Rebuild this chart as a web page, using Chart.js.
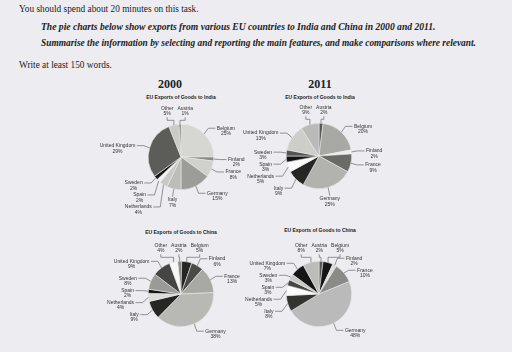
<!DOCTYPE html>
<html><head><meta charset="utf-8">
<script src="https://cdn.jsdelivr.net/npm/chart.js@4"></script>
<style>
html,body{margin:0;padding:0;}
body{width:512px;height:352px;background:#ECECF1;position:relative;overflow:hidden;font-family:"Liberation Serif",serif;color:#222;}
.t{position:absolute;white-space:nowrap;}
.l1{left:19px;top:4px;font-size:9.3px;}
.l2{left:41px;top:21px;font-size:9.6px;font-weight:bold;font-style:italic;}
.l3{left:41px;top:38px;font-size:9.4px;font-weight:bold;font-style:italic;}
.l4{left:19px;top:60px;font-size:9.3px;}
.yr{font-size:12px;font-weight:bold;transform:translateX(-50%);top:77px;}
.sub{font-family:"Liberation Sans",Arial,sans-serif;font-size:5px;font-weight:bold;transform:translateX(-50%);}
canvas{position:absolute;}
</style></head>
<body>
<div class="t l1">You should spend about 20 minutes on this task.</div>
<div class="t l2">The pie charts below show exports from various EU countries to India and China in 2000 and 2011.</div>
<div class="t l3">Summarise the information by selecting and reporting the main features, and make comparisons where relevant.</div>
<div class="t l4">Write at least 150 words.</div>
<div class="t yr" style="left:170px">2000</div>
<div class="t yr" style="left:320px">2011</div>
<div class="t sub" style="left:181px;top:94px">EU Exports of Goods to India</div>
<div class="t sub" style="left:320px;top:94px">EU Exports of Goods to India</div>
<div class="t sub" style="left:181px;top:229px">EU Exports of Goods to China</div>
<div class="t sub" style="left:320px;top:227px">EU Exports of Goods to China</div>
<canvas id="c1" width="230" height="140"></canvas>
<canvas id="c2" width="230" height="140"></canvas>
<canvas id="c3" width="230" height="140"></canvas>
<canvas id="c4" width="230" height="140"></canvas>
<script>
const countries = ["Austria","Belgium","Finland","France","Germany","Italy","Netherlands","Spain","Sweden","United Kingdom","Other"];
const india2000 = [1,25,2,8,15,7,4,2,2,29,5];
const india2011 = [2,20,2,9,25,9,5,3,3,13,9];
const china2000 = [2,5,6,13,38,9,4,2,8,9,4];
const china2011 = [2,5,2,10,48,8,5,3,3,7,8];

const colIndia2000 = ["#4a4a48","#d6d6d2","#8a8a88","#d0d0cc","#9c9c98","#bcbcb8","#c8c8c4","#f2f2f0","#151515","#5c5c58","#cacac6"];
const colIndia2011 = ["#575755","#a8a8a4","#eeeeec","#6a6a66","#b2b2ae","#262624","#fbfbfb","#121212","#555553","#cdcdc9","#bababa"];
const colChina2000 = ["#8a8a88","#262624","#4a4a48","#a8a8a4","#b8b8b4","#262624","#dcdcd8","#121212","#9a9a96","#454543","#f6f6f6"];
const colChina2011 = ["#575755","#151515","#dddddb","#8a8a86","#bababa","#333331","#fbfbfb","#454543","#c8c8c4","#151515","#bcbcb8"];

const pieLabels = {
  id:'pieLabels',
  afterDraw(chart){
    const ctx = chart.ctx;
    const meta = chart.getDatasetMeta(0);
    const labels = chart.data.labels;
    const vals = chart.data.datasets[0].data;
    ctx.save();
    ctx.font = '5px "Liberation Sans", Arial, sans-serif';
    ctx.fillStyle = '#333';
    ctx.strokeStyle = '#555';
    ctx.lineWidth = 0.6;
    ctx.textBaseline = 'middle';
    ctx.textAlign = 'center';
    const items = meta.data.map((arc,i)=>{
      const p = arc.getProps(['x','y','startAngle','endAngle','outerRadius'], true);
      const mid = (p.startAngle+p.endAngle)/2;
      return {i, cx:p.x, cy:p.y, R:p.outerRadius, mid, c:Math.cos(mid), s:Math.sin(mid),
              w:Math.max(ctx.measureText(labels[i]).width, ctx.measureText(vals[i]+'%').width)};
    });
    const groups = {L:[],R:[],T:[],B:[]};
    items.forEach(it=>{
      if (Math.abs(it.c) < 0.3) {
        it.x = it.cx + it.c*(it.R+6);
        (it.s<0?groups.T:groups.B).push(it);
      } else {
        it.y = it.cy + it.s*(it.R+8);
        (it.c>0?groups.R:groups.L).push(it);
      }
    });
    // spread top/bottom labels horizontally
    ['T','B'].forEach(k=>{
      const arr = groups[k].sort((a,b)=>a.x-b.x);
      for (let iter=0; iter<30; iter++){
        for (let j=1;j<arr.length;j++){
          const need = (arr[j].w+arr[j-1].w)/2 + 4;
          const d = arr[j].x - arr[j-1].x;
          if (d < need){ const sh=(need-d)/2; arr[j].x+=sh; arr[j-1].x-=sh; }
        }
      }
      arr.forEach(it=>{
        const ex = it.cx + it.c*it.R, ey = it.cy + it.s*it.R;
        if (k==='T') {
          const ty = it.cy - it.R - 16;
          ctx.beginPath(); ctx.moveTo(ex,ey); ctx.lineTo(ex,ty+12); ctx.lineTo(it.x,ty+12); ctx.lineTo(it.x,ty+9); ctx.stroke();
          ctx.fillText(labels[it.i], it.x, ty);
          ctx.fillText(vals[it.i]+'%', it.x, ty+5.5);
        } else {
          const ty = it.cy + it.R + 10;
          ctx.beginPath(); ctx.moveTo(ex,ey); ctx.lineTo(it.x,ty-3); ctx.stroke();
          ctx.fillText(labels[it.i], it.x, ty);
          ctx.fillText(vals[it.i]+'%', it.x, ty+5.5);
        }
      });
    });
    ['L','R'].forEach(k=>{
      const arr = groups[k].sort((a,b)=>a.y-b.y);
      for (let j=1;j<arr.length;j++){
        if (arr[j].y - arr[j-1].y < 12) arr[j].y = arr[j-1].y + 12;
      }
      arr.forEach(it=>{
        const sign = it.c>0?1:-1;
        const ex = it.cx + it.c*it.R, ey = it.cy + it.s*it.R;
        const elx = it.cx + it.c*(it.R+6);
        const endx = elx + sign*7;
        ctx.beginPath(); ctx.moveTo(ex,ey); ctx.lineTo(elx,it.y); ctx.lineTo(endx,it.y); ctx.stroke();
        const w = ctx.measureText(labels[it.i]).width;
        const tx = endx + sign*(w/2+1.5);
        ctx.fillText(labels[it.i], tx, it.y);
        ctx.fillText(vals[it.i]+'%', tx, it.y+5.5);
      });
    });
    ctx.restore();
  }
};

function makePie(id, cx, cy, data, colors, rotation){
  const cv = document.getElementById(id);
  cv.style.left = (cx-115)+'px';
  cv.style.top = (cy-70)+'px';
  new Chart(cv, {
    type:'pie',
    data:{labels:countries, datasets:[{data:data, backgroundColor:colors, borderColor:'#e8e8e8', borderWidth:0.6}]},
    options:{
      responsive:false, animation:false, rotation:rotation,
      layout:{padding:{left:82,right:82,top:37,bottom:37}},
      plugins:{legend:{display:false}, tooltip:{enabled:false}, title:{display:false}}
    },
    plugins:[pieLabels]
  });
}
makePie('c1',181,157,india2000,colIndia2000,-3.6);
makePie('c2',319,156,india2011,colIndia2011,0);
makePie('c3',181,294,china2000,colChina2000,-6);
makePie('c4',319,294,china2011,colChina2011,0);
</script>
</body></html>
